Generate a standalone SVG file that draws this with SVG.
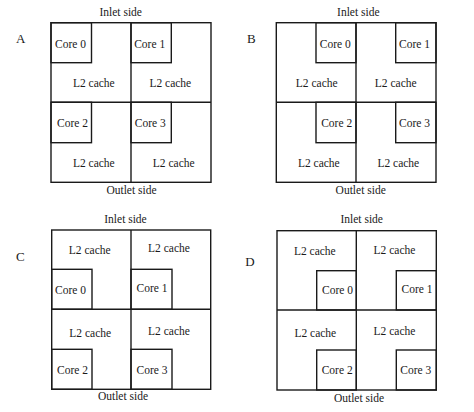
<svg xmlns="http://www.w3.org/2000/svg" width="474" height="412" viewBox="0 0 474 412">
<style>
rect{fill:none;stroke:#1a1a1a;stroke-width:1.4}
line{stroke:#1a1a1a;stroke-width:1.4}
text{font-family:"Liberation Serif","Times New Roman",serif;font-size:11.5px;fill:#1a1a1a}
.m{text-anchor:middle}
.lt{font-size:13px}
</style>
<rect width="474" height="412" style="fill:#fff;stroke:none"/>
<g id="panelA">
<text x="16" y="43.3" class="lt">A</text>
<text x="120.7" y="16" class="m">Inlet side</text>
<text x="131.5" y="194" class="m">Outlet side</text>
<rect x="51" y="22.7" width="160" height="159.6"/>
<line x1="131" y1="22.7" x2="131" y2="182.3"/>
<line x1="51" y1="102.3" x2="211" y2="102.3"/>
<g id="A-core0"><rect x="51" y="22.7" width="40.5" height="40"/><text x="70.5" y="47.7" class="m">Core 0</text></g>
<g id="A-core1"><rect x="131" y="22.7" width="40.3" height="40"/><text x="149.7" y="47.7" class="m">Core 1</text></g>
<g id="A-core2"><rect x="51" y="102.3" width="40.5" height="40.4"/><text x="72.5" y="127" class="m">Core 2</text></g>
<g id="A-core3"><rect x="131" y="102.3" width="40.3" height="40.4"/><text x="150.3" y="127" class="m">Core 3</text></g>
<g id="A-l2-0"><text x="93.8" y="86.7" class="m">L2 cache</text></g>
<g id="A-l2-1"><text x="170.3" y="86.7" class="m">L2 cache</text></g>
<g id="A-l2-2"><text x="93.8" y="166.7" class="m">L2 cache</text></g>
<g id="A-l2-3"><text x="173.7" y="166.7" class="m">L2 cache</text></g>
</g>
<g id="panelB">
<text x="247" y="43.3" class="lt">B</text>
<text x="358.3" y="16" class="m">Inlet side</text>
<text x="360.7" y="194" class="m">Outlet side</text>
<rect x="276.3" y="22.7" width="159.7" height="159.6"/>
<line x1="356" y1="22.7" x2="356" y2="182.3"/>
<line x1="276.3" y1="102.3" x2="436" y2="102.3"/>
<g id="B-core0"><rect x="316" y="22.7" width="40" height="40"/><text x="335.3" y="47.7" class="m">Core 0</text></g>
<g id="B-core1"><rect x="395.7" y="22.7" width="40.3" height="40"/><text x="414.5" y="47.7" class="m">Core 1</text></g>
<g id="B-core2"><rect x="316" y="102.3" width="40" height="40.4"/><text x="336.7" y="127" class="m">Core 2</text></g>
<g id="B-core3"><rect x="395.7" y="102.3" width="40.3" height="40.4"/><text x="414.5" y="127" class="m">Core 3</text></g>
<g id="B-l2-0"><text x="316.7" y="86.7" class="m">L2 cache</text></g>
<g id="B-l2-1"><text x="395.7" y="86.7" class="m">L2 cache</text></g>
<g id="B-l2-2"><text x="318.8" y="166.7" class="m">L2 cache</text></g>
<g id="B-l2-3"><text x="398.3" y="166.7" class="m">L2 cache</text></g>
</g>
<g id="panelC">
<text x="16" y="261" class="lt">C</text>
<text x="125.5" y="222.7" class="m">Inlet side</text>
<text x="123" y="400" class="m">Outlet side</text>
<rect x="51.7" y="230" width="159" height="159.3"/>
<line x1="131" y1="230" x2="131" y2="389.3"/>
<line x1="51.7" y1="309.3" x2="210.7" y2="309.3"/>
<g id="C-core0"><rect x="51.7" y="269.3" width="40.3" height="40"/><text x="70.5" y="294" class="m">Core 0</text></g>
<g id="C-core1"><rect x="131" y="269.3" width="41" height="40"/><text x="152" y="292.3" class="m">Core 1</text></g>
<g id="C-core2"><rect x="51.7" y="349.3" width="40.3" height="40"/><text x="72.5" y="374" class="m">Core 2</text></g>
<g id="C-core3"><rect x="131" y="349.3" width="41" height="40"/><text x="152" y="374" class="m">Core 3</text></g>
<g id="C-l2-0"><text x="89.7" y="254" class="m">L2 cache</text></g>
<g id="C-l2-1"><text x="169" y="252" class="m">L2 cache</text></g>
<g id="C-l2-2"><text x="90.2" y="336.7" class="m">L2 cache</text></g>
<g id="C-l2-3"><text x="169" y="335.3" class="m">L2 cache</text></g>
</g>
<g id="panelD">
<text x="245.3" y="265.7" class="lt">D</text>
<text x="361.7" y="223.3" class="m">Inlet side</text>
<text x="359" y="401.7" class="m">Outlet side</text>
<rect x="277" y="230.7" width="159.3" height="159.3"/>
<line x1="356.3" y1="230.7" x2="356.3" y2="390"/>
<line x1="277" y1="310" x2="436.3" y2="310"/>
<g id="D-core0"><rect x="316.7" y="270.7" width="39.6" height="39.3"/><text x="337.5" y="294.3" class="m">Core 0</text></g>
<g id="D-core1"><rect x="396.3" y="270.7" width="40" height="39.3"/><text x="417" y="292.7" class="m">Core 1</text></g>
<g id="D-core2"><rect x="316.7" y="350" width="39.6" height="40"/><text x="337.2" y="374" class="m">Core 2</text></g>
<g id="D-core3"><rect x="396.3" y="350" width="40" height="40"/><text x="415.8" y="374" class="m">Core 3</text></g>
<g id="D-l2-0"><text x="314.8" y="255" class="m">L2 cache</text></g>
<g id="D-l2-1"><text x="394.5" y="254" class="m">L2 cache</text></g>
<g id="D-l2-2"><text x="315.3" y="336.7" class="m">L2 cache</text></g>
<g id="D-l2-3"><text x="394.5" y="335.3" class="m">L2 cache</text></g>
</g>
<g id="connectors"></g>
</svg>
